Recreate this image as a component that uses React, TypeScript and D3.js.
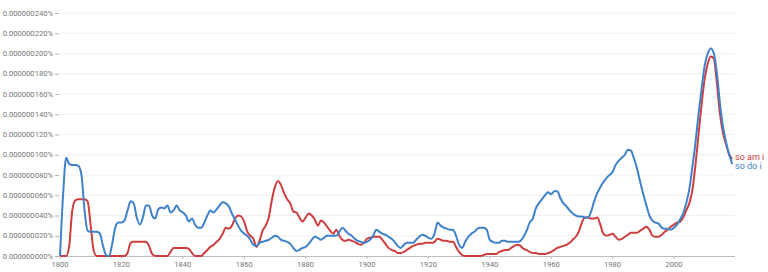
import React from "react";
import * as d3 from "d3";

const startYear = 1800;
const endYear = 2019;
const years: number[] = d3.range(startYear, endYear + 1);

// values in units of 1e-9 percent
const soDoI: number[] = [
  0, 60, 97, 91, 90, 90, 89, 80, 45, 25,
  24, 24, 24, 22, 10, 1, 0, 12, 28, 33,
  33, 35, 45, 54, 52, 38, 31, 38, 50, 50,
  40, 37, 46, 48, 47, 50, 43, 45, 50, 45,
  43, 40, 34, 37, 31, 28, 28, 33, 40, 45,
  43, 46, 50, 53, 52, 49, 42, 36, 30, 25,
  22, 20, 16, 11, 10, 13, 14, 15, 16, 18,
  20, 19, 16, 15, 14, 12, 8, 5, 6, 8,
  9, 12, 16, 19, 18, 16, 18, 20, 20, 20,
  20, 24, 28, 25, 22, 20, 17, 15, 14, 13,
  14, 16, 20, 26, 24, 22, 21, 19, 17, 14,
  10, 8, 11, 13, 13, 13, 16, 19, 21, 20,
  18, 17, 22, 33, 30, 28, 27, 26, 26, 20,
  11, 8, 14, 19, 22, 24, 27, 28, 28, 26,
  16, 14, 13, 13, 15, 15, 14, 14, 14, 14,
  15, 19, 25, 33, 37, 47, 52, 56, 60, 63,
  61, 64, 64, 57, 52, 49, 45, 42, 40, 39,
  39, 38, 38, 44, 54, 62, 68, 73, 77, 80,
  83, 90, 94, 97, 100, 105, 104, 96, 86, 73,
  61, 50, 40, 35, 33, 32, 28, 27, 27, 26,
  28, 31, 36, 42, 52, 66, 88, 112, 140, 165,
  188, 200, 205, 200, 180, 150, 127, 112, 100, 91,
];

const soAmI: number[] = [
  0, 0, 0, 10, 45, 55, 56, 56, 56, 54,
  30, 5, 0, 0, 0, 0, 0, 0, 0, 0,
  0, 0, 3, 13, 14, 14, 14, 14, 14, 10,
  2, 0, 0, 0, 0, 0, 4, 8, 8, 8,
  8, 8, 7, 3, 0, 0, 0, 3, 6, 9,
  11, 14, 17, 22, 28, 27, 30, 37, 40, 39,
  34, 24, 20, 17, 9, 15, 25, 30, 38, 55,
  68, 74, 70, 62, 56, 52, 44, 43, 38, 34,
  38, 42, 40, 36, 30, 35, 33, 29, 25, 22,
  26, 20, 16, 15, 16, 15, 14, 12, 11, 13,
  17, 18, 19, 19, 19, 16, 12, 8, 6, 5,
  3, 3, 4, 6, 8, 10, 11, 12, 12, 13,
  13, 13, 14, 17, 16, 15, 15, 14, 14, 9,
  4, 1, 0, 0, 0, 0, 0, 0, 1, 2,
  2, 2, 2, 4, 5, 6, 6, 8, 10, 11,
  10, 7, 6, 4, 3, 3, 2, 2, 2, 3,
  4, 6, 8, 9, 10, 11, 13, 16, 19, 24,
  33, 38, 38, 37, 37, 38, 31, 22, 20, 21,
  22, 19, 16, 17, 19, 21, 23, 23, 23, 25,
  27, 29, 26, 20, 19, 19, 21, 24, 26, 29,
  31, 33, 34, 38, 45, 52, 65, 90, 120, 150,
  175, 190, 197, 195, 170, 140, 121, 110, 100, 96,
];

const yTicks: number[] = [0, 20, 40, 60, 80, 100, 120, 140, 160, 180, 200, 220, 240];
const xTicks: number[] = [1800, 1820, 1840, 1860, 1880, 1900, 1920, 1940, 1960, 1980, 2000];
const seriesNames: string[] = ["so am i", "so do i"];
const seriesColors: string[] = ["#cf3e3e", "#3f82cc"];

const W = 768;
const H = 272;
const left = 60;
const right = 732.3;
const top = 13;
const bottom = 256;

export default function App() {
  const x = d3.scaleLinear().domain([startYear, endYear]).range([left, right]);
  const y = d3.scaleLinear().domain([0, 240]).range([bottom, top]);
  const line = d3
    .line<number>()
    .x((_, i) => x(years[i]))
    .y((d) => y(d))
    .curve(d3.curveMonotoneX);

  const fmt = (v: number) => (v / 1e9).toFixed(9) + "%";
  const series = [soAmI, soDoI];
  const font = "Roboto, 'Noto Sans', Arial, sans-serif";

  return (
    <svg
      width={W}
      height={H}
      style={{ position: "absolute", left: 0, top: 0, background: "#fff" }}
      fontFamily={font}
    >
      {yTicks.map((t) => (
        <g key={t}>
          {t > 0 && (
            <line x1={left} x2={735} y1={y(t)} y2={y(t)} stroke="#f0f0f0" strokeWidth={1} />
          )}
          <text x={53} y={y(t)} dy="0.35em" textAnchor="end" fontSize={7.6} fill="#757575">
            {fmt(t)}
          </text>
          <line x1={55} x2={59} y1={y(t) + 0.5} y2={y(t) + 0.5} stroke="#9e9e9e" strokeWidth={0.8} />
        </g>
      ))}
      <line x1={left} x2={735} y1={bottom + 0.5} y2={bottom + 0.5} stroke="#bdbdbd" strokeWidth={1} />
      {xTicks.map((t) => (
        <g key={t}>
          <line x1={x(t)} x2={x(t)} y1={bottom} y2={bottom + 3} stroke="#bdbdbd" strokeWidth={1} />
          <text x={x(t)} y={bottom + 11} textAnchor="middle" fontSize={7.6} fill="#757575">
            {t}
          </text>
        </g>
      ))}
      {series.map((s, i) => (
        <path key={i} d={line(s) || ""} fill="none" stroke={seriesColors[i]} strokeWidth={2} strokeLinejoin="round" />
      ))}
      <text x={735} y={157} dy="0.35em" fontSize={9} fill={seriesColors[0]}>
        {seriesNames[0]}
      </text>
      <text x={735} y={166} dy="0.35em" fontSize={9} fill={seriesColors[1]}>
        {seriesNames[1]}
      </text>
    </svg>
  );
}
